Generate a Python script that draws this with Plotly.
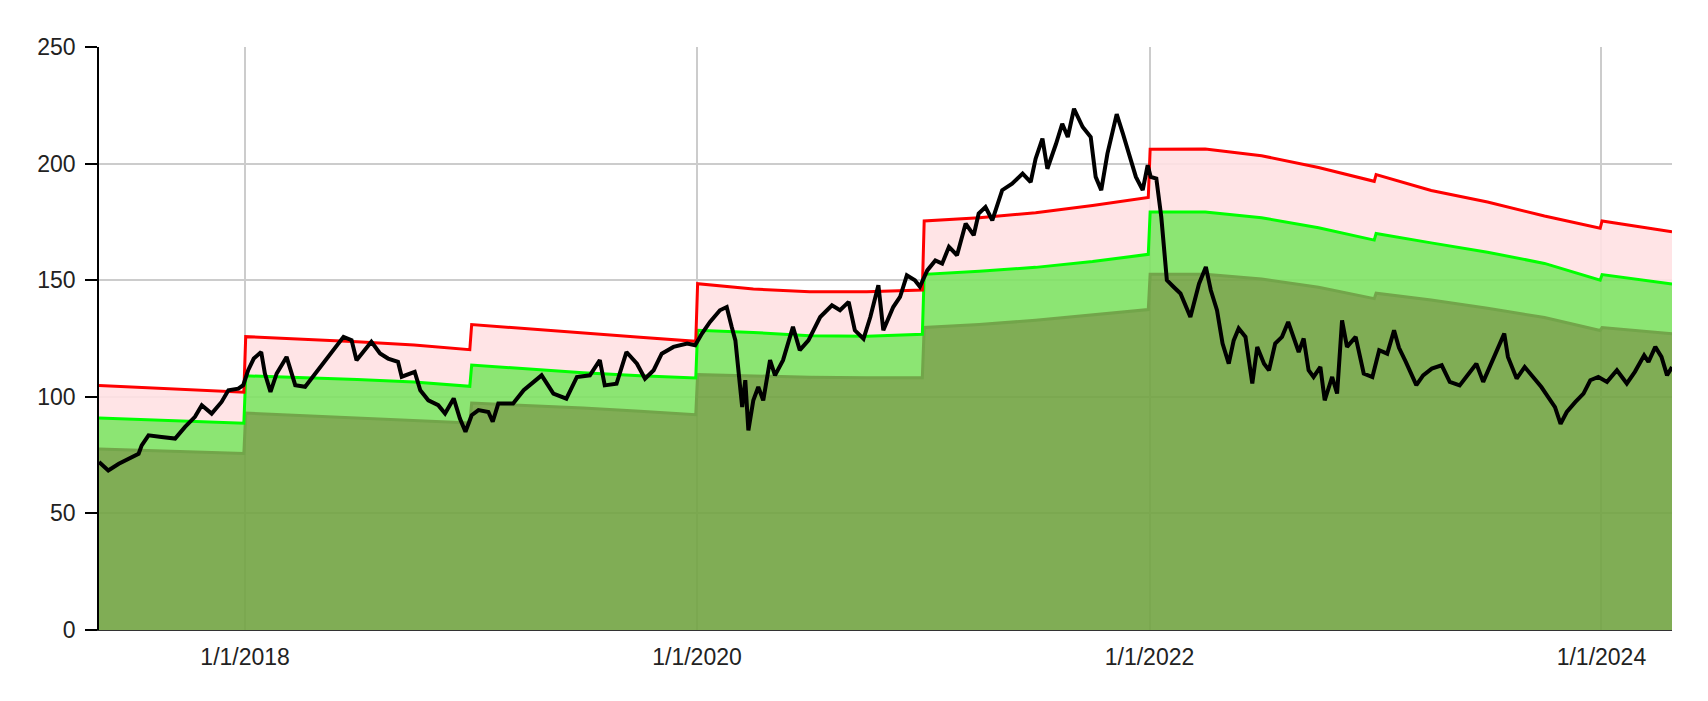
import plotly.graph_objects as go

# ---------------- data ----------------
band_dates = [
    "2017-05-10", "2017-09-01", "2017-12-30",
    "2018-01-02", "2018-04-01", "2018-07-01", "2018-10-01", "2018-12-30",
    "2019-01-02", "2019-04-01", "2019-07-01", "2019-10-01", "2019-12-30",
    "2020-01-02", "2020-04-01", "2020-07-01", "2020-10-01", "2020-12-30",
    "2021-01-02", "2021-04-01", "2021-07-01", "2021-10-01", "2021-12-30",
    "2022-01-02", "2022-04-01", "2022-07-01", "2022-10-01", "2022-12-30",
    "2023-01-02", "2023-04-01", "2023-07-01", "2023-10-01", "2023-12-30",
    "2024-01-02", "2024-04-24",
]
red_vals = [
    104.8, 103.3, 102.0,
    125.8, 124.8, 123.6, 122.2, 120.2,
    131.0, 129.1, 127.2, 125.5, 123.8,
    148.5, 146.2, 145.0, 145.1, 145.8,
    175.4, 176.8, 178.9, 182.0, 185.5,
    206.2, 206.3, 203.4, 198.3, 192.4,
    195.3, 188.5, 183.5, 177.5, 172.3,
    175.4, 170.8,
]
green_vals = [
    90.9, 89.8, 88.7,
    109.0, 108.3, 107.4, 106.3, 104.5,
    113.6, 112.0, 110.3, 109.0, 108.1,
    128.5, 127.6, 126.2, 126.0, 126.8,
    152.5, 153.8, 155.5, 158.0, 161.1,
    179.2, 179.2, 176.8, 172.5, 167.2,
    170.0, 166.0, 162.0, 157.2, 150.0,
    152.4, 148.4,
]
lower_vals = [
    77.6, 76.6, 75.7,
    93.0, 92.0, 91.0, 90.0, 88.8,
    97.3, 96.3, 95.2, 93.8, 92.3,
    109.5, 108.8, 108.4, 108.2, 108.2,
    129.7, 131.0, 132.8, 135.0, 137.4,
    152.5, 152.5, 150.5, 147.0, 142.1,
    144.4, 141.5, 138.0, 134.0, 128.4,
    129.7, 127.0,
]

price_dates = [
    "2017-05-10", "2017-05-25", "2017-06-11", "2017-06-27", "2017-07-13", "2017-07-18",
    "2017-07-29", "2017-08-19", "2017-09-10", "2017-09-26", "2017-10-12", "2017-10-23",
    "2017-11-08", "2017-11-24", "2017-12-05", "2017-12-21", "2017-12-29",
    "2018-01-06", "2018-01-15", "2018-01-27", "2018-02-02", "2018-02-11", "2018-02-21",
    "2018-03-09", "2018-03-23", "2018-04-08", "2018-04-24", "2018-05-10", "2018-05-24",
    "2018-06-09", "2018-06-22", "2018-06-30", "2018-07-24", "2018-08-07", "2018-08-20",
    "2018-09-05", "2018-09-11", "2018-10-02", "2018-10-11", "2018-10-24", "2018-11-09",
    "2018-11-20", "2018-12-04", "2018-12-14", "2018-12-23",
    "2019-01-02", "2019-01-13", "2019-01-29", "2019-02-05", "2019-02-14", "2019-03-10",
    "2019-03-27", "2019-04-25", "2019-05-14", "2019-06-04", "2019-06-21", "2019-07-12",
    "2019-07-28", "2019-08-05", "2019-08-24", "2019-09-09", "2019-09-26", "2019-10-09",
    "2019-10-23", "2019-11-05", "2019-11-24", "2019-12-16", "2019-12-29",
    "2020-01-09", "2020-01-22", "2020-02-07", "2020-02-18", "2020-02-26", "2020-03-03",
    "2020-03-09", "2020-03-14", "2020-03-19", "2020-03-24", "2020-04-01", "2020-04-09",
    "2020-04-17", "2020-04-28", "2020-05-06", "2020-05-19", "2020-06-04", "2020-06-15",
    "2020-06-29", "2020-07-18", "2020-08-06", "2020-08-19", "2020-09-02", "2020-09-12",
    "2020-09-26", "2020-10-07", "2020-10-20", "2020-10-28", "2020-11-13", "2020-11-24",
    "2020-12-05", "2020-12-18", "2020-12-26",
    "2021-01-07", "2021-01-20", "2021-01-31", "2021-02-11", "2021-02-24", "2021-03-10",
    "2021-03-23", "2021-03-31", "2021-04-11", "2021-04-22", "2021-05-08", "2021-05-24",
    "2021-06-10", "2021-06-23", "2021-07-01", "2021-07-12", "2021-07-20", "2021-08-03",
    "2021-08-13", "2021-08-22", "2021-09-01", "2021-09-15", "2021-09-28", "2021-10-06",
    "2021-10-15", "2021-10-25", "2021-11-02", "2021-11-09", "2021-11-19", "2021-11-29",
    "2021-12-10", "2021-12-21", "2021-12-29",
    "2022-01-03", "2022-01-12", "2022-01-20", "2022-01-25", "2022-01-29", "2022-02-09",
    "2022-02-20", "2022-03-08", "2022-03-22", "2022-04-02", "2022-04-10", "2022-04-20",
    "2022-04-29", "2022-05-09", "2022-05-17", "2022-05-25", "2022-06-05", "2022-06-16",
    "2022-06-24", "2022-07-05", "2022-07-13", "2022-07-23", "2022-08-03", "2022-08-13",
    "2022-08-22", "2022-08-30", "2022-09-07", "2022-09-15", "2022-09-23", "2022-10-04",
    "2022-10-11", "2022-10-23", "2022-10-31", "2022-11-08", "2022-11-16", "2022-11-30",
    "2022-12-13", "2022-12-27",
    "2023-01-07", "2023-01-20", "2023-01-31", "2023-02-08", "2023-02-19", "2023-03-02",
    "2023-03-08", "2023-03-19", "2023-04-02", "2023-04-18", "2023-05-01", "2023-05-17",
    "2023-05-28", "2023-06-13", "2023-06-24", "2023-07-08", "2023-07-18", "2023-07-28",
    "2023-08-03", "2023-08-17", "2023-08-30", "2023-09-13", "2023-09-26", "2023-10-07",
    "2023-10-18", "2023-10-27", "2023-11-06", "2023-11-20", "2023-12-03", "2023-12-14",
    "2023-12-27",
    "2024-01-10", "2024-01-26", "2024-02-11", "2024-02-24", "2024-03-10", "2024-03-17",
    "2024-03-28", "2024-04-07", "2024-04-16", "2024-04-24",
]
price_vals = [
    72.0, 68.4, 71.3, 73.5, 75.6, 79.2,
    83.5, 82.8, 82.1, 87.1, 91.4, 96.4,
    92.8, 97.8, 102.8, 103.5, 105.0,
    111.4, 116.4, 119.2, 110.0, 102.1, 110.0,
    117.1, 105.0, 104.3, 110.0, 115.7, 120.7,
    125.7, 124.3, 115.7, 123.6, 118.6, 116.4,
    115.0, 108.6, 110.7, 102.8, 98.5, 96.4,
    92.8, 99.3, 90.7, 85.0,
    92.1, 94.3, 93.5, 89.3, 97.1, 97.1,
    102.8, 109.2, 101.4, 99.2, 108.5, 109.2,
    115.7, 104.9, 105.6, 119.2, 114.2, 107.8,
    111.4, 118.5, 121.4, 122.8, 122.1,
    127.1, 132.1, 137.1, 138.5, 130.0, 124.2,
    108.5, 95.6, 107.1, 85.6, 98.5, 104.2,
    98.5, 115.7, 109.2, 115.7, 130.0, 120.0,
    124.2, 134.2, 139.2, 137.1, 140.7, 128.5,
    124.9, 134.2, 147.8, 128.5, 138.5, 142.8,
    152.1, 150.0, 147.2,
    154.2, 158.5, 157.1, 164.3, 160.7, 174.3,
    169.3, 178.6, 181.4, 175.7, 188.6, 191.4,
    195.7, 192.1, 202.1, 210.7, 197.8, 208.5,
    217.1, 211.4, 223.5, 215.7, 211.4, 194.3,
    188.6, 204.3, 214.3, 221.2, 212.9, 204.3,
    194.3, 188.6, 199.3,
    194.3, 193.6, 177.1, 160.0, 150.0, 147.1,
    144.3, 134.2, 148.5, 155.7, 145.7, 137.1,
    122.8, 114.2, 124.2, 129.3, 125.7, 105.7,
    121.4, 114.2, 111.4, 122.8, 125.7, 132.1,
    125.7, 119.2, 125.0, 111.4, 108.5, 112.8,
    98.5, 108.5, 101.4, 132.8, 121.4, 125.7,
    110.0, 108.5,
    120.0, 118.5, 128.5, 121.0, 115.0, 109.0,
    105.0, 109.2, 112.1, 113.5, 106.4, 104.9,
    108.5, 114.2, 106.4, 115.0, 120.7, 127.1,
    117.1, 107.8, 112.8, 108.5, 104.2, 99.9,
    95.6, 88.4, 93.5, 97.8, 101.4, 107.1,
    108.5,
    106.4, 111.4, 105.7, 110.7, 117.8, 115.0,
    121.4, 117.1, 109.2, 112.8,
]

y_tick_vals = [0, 50, 100, 150, 200, 250]
x_range = ["2017-05-10", "2024-04-24"]

# ---------------- figure ----------------
FONT = "Arial, 'Liberation Sans', Helvetica, sans-serif"

fig = go.Figure()

fig.add_trace(go.Scatter(
    x=band_dates, y=lower_vals, mode="lines",
    line=dict(color="#72a54a", width=3),
    fill="tozeroy", fillcolor="rgba(114,164,66,0.9)",
    hoverinfo="skip", showlegend=False,
))
fig.add_trace(go.Scatter(
    x=band_dates, y=green_vals, mode="lines",
    line=dict(color="#00ff00", width=3),
    fill="tonexty", fillcolor="rgba(128,226,100,0.9)",
    hoverinfo="skip", showlegend=False,
))
fig.add_trace(go.Scatter(
    x=band_dates, y=red_vals, mode="lines",
    line=dict(color="#ff0000", width=3),
    fill="tonexty", fillcolor="rgba(255,225,227,0.9)",
    hoverinfo="skip", showlegend=False,
))
fig.add_trace(go.Scatter(
    x=price_dates, y=price_vals, mode="lines",
    line=dict(color="#000000", width=4),
    showlegend=False,
))

fig.update_layout(
    width=1700, height=693,
    margin=dict(l=91, r=36, t=39, b=71, pad=0),
    paper_bgcolor="white", plot_bgcolor="white",
    font=dict(family=FONT, size=23, color="#222222"),
    showlegend=False,
    xaxis=dict(
        type="date", range=x_range,
        tick0="2018-01-01", dtick="M24", tickformat="%-m/%-d/%Y",
        showgrid=True, gridcolor="#cccccc", gridwidth=1.5,
        ticks="", showline=True, linecolor="#333333", linewidth=1,
        zeroline=False, ticklabelstandoff=6,
    ),
    yaxis=dict(
        range=[0, 250], tickvals=y_tick_vals,
        showgrid=True, gridcolor="#cccccc", gridwidth=1.5,
        ticks="outside", ticklen=12, tickwidth=1.5, tickcolor="#000000",
        showline=True, linecolor="#000000", linewidth=1.5,
        zeroline=False, ticklabelstandoff=5,
    ),
    yaxis2=dict(
        range=[0, 250], tickvals=y_tick_vals, overlaying="y", side="left",
        ticks="inside", ticklen=12, tickwidth=1.5, tickcolor="#000000",
        showticklabels=False, showgrid=False, showline=False, zeroline=False,
    ),
)

fig.write_html("out.html")
